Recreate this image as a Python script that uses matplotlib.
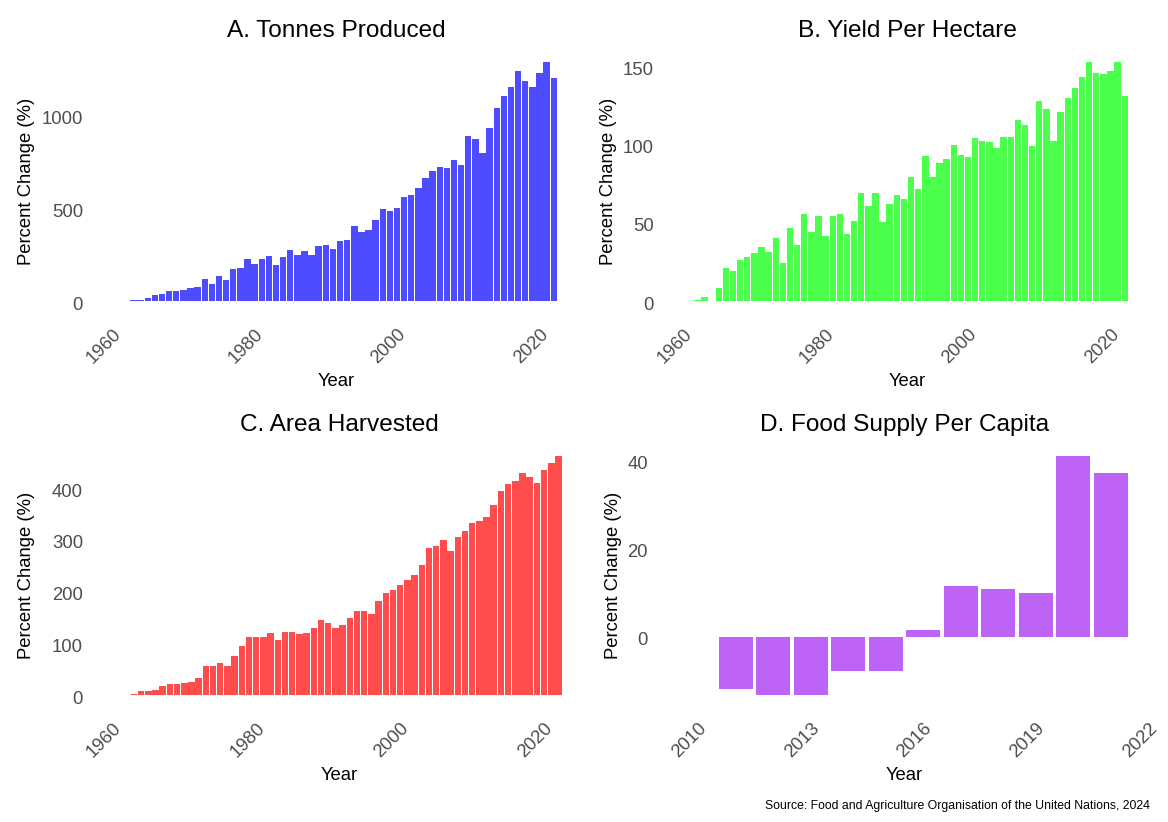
import matplotlib
matplotlib.use("Agg")
import matplotlib.pyplot as plt
from matplotlib.transforms import ScaledTranslation

plt.rcParams['font.family'] = ['Liberation Sans', 'DejaVu Sans']

# A. Tonnes Produced (% change)
years_a = list(range(1963, 2023))
tonnes = [5, 5, 16, 32, 38, 54, 54, 59, 70, 76,
          119, 92, 135, 113, 173, 178, 227, 200, 227, 243,
          194, 237, 275, 248, 270, 248, 297, 302, 280, 324,
          329, 405, 372, 383, 437, 496, 485, 502, 561, 572,
          610, 663, 701, 723, 717, 761, 734, 890, 874, 798,
          933, 1041, 1106, 1154, 1241, 1187, 1154, 1230, 1289, 1203]

# B. Yield Per Hectare (% change)
years_b = list(range(1962, 2023))
yield_ha = [0.6, 2.6, 0, 8.3, 21.1, 19.2, 26.2, 28.1, 30.7, 34.5,
            31.3, 40.2, 24.3, 46.6, 35.8, 55.6, 44.1, 54.3, 41.5, 54.3,
            55.6, 42.8, 51.1, 69.0, 60.7, 69.0, 50.4, 61.9, 67.7, 65.1,
            79.2, 71.5, 92.6, 79.2, 88.1, 90.7, 99.6, 93.2, 92.0, 104.1,
            102.2, 101.5, 97.7, 104.7, 104.7, 115.6, 112.4, 99.0, 127.7, 122.6,
            102.2, 120.7, 129.6, 136.0, 143.0, 152.6, 145.6, 145.0, 146.9, 152.6,
            130.9]

# C. Area Harvested (% change)
years_c = list(range(1963, 2023))
area = [1.9, 7.7, 7.7, 9.7, 17.4, 21.3, 21.3, 23.2, 25.2, 32.9,
        56.1, 56.1, 61.9, 56.1, 75.5, 94.8, 112.3, 112.3, 112.3, 120.0,
        106.5, 121.9, 121.9, 118.1, 120.0, 129.7, 145.2, 139.4, 129.7, 135.5,
        149.0, 162.6, 162.6, 156.8, 181.9, 197.4, 203.2, 212.9, 222.6, 232.3,
        251.6, 284.5, 288.4, 300.0, 278.7, 305.8, 317.4, 332.9, 336.8, 344.5,
        367.7, 394.8, 408.4, 414.2, 429.7, 421.9, 410.3, 435.5, 449.0, 462.6]

# D. Food Supply Per Capita (% change)
years_d = list(range(2011, 2022))
food = [-11.8, -13.2, -13.2, -7.7, -7.7, 1.6, 11.6, 10.9, 10.0, 41.1, 37.3]

W, H = 1168, 822
fig = plt.figure(figsize=(W / 100, H / 100), dpi=100)
fig.patch.set_facecolor('white')


def panel(px, title, years, vals, color, xlim, xticks, yticks, ylab_x, year_y):
    left, top, right, bottom = px
    ax = fig.add_axes([left / W, 1 - bottom / H, (right - left) / W, (bottom - top) / H])
    ax.bar(years, vals, width=0.9, color=color, linewidth=0)
    lo, hi = min(0, min(vals)), max(vals)
    pad = 0.05 * (hi - lo)
    ax.set_ylim(lo - pad, hi + pad)
    ax.set_xlim(*xlim)
    ax.set_xticks(xticks)
    ax.set_xticklabels([str(t) for t in xticks], rotation=45, ha='right', va='top',
                       rotation_mode='anchor')
    ax.set_yticks(yticks)
    ax.tick_params(length=0, labelsize=13.3, labelcolor='#4D4D4D')
    ax.tick_params(axis='y', pad=8)
    ax.tick_params(axis='x', pad=9)
    # ggplot puts the y labels a touch lower
    shift = ScaledTranslation(0, -0.02, fig.dpi_scale_trans)
    for lab in ax.get_yticklabels():
        lab.set_transform(lab.get_transform() + shift)
    for s in ax.spines.values():
        s.set_visible(False)
    ax.set_title(title, fontsize=17.6, pad=9.5)
    cx = (left + right) / 2
    fig.text(ylab_x / W, 1 - ((top + bottom) / 2) / H, 'Percent Change (%)',
             rotation=90, ha='center', va='center', fontsize=13.3)
    fig.text(cx / W, 1 - year_y / H, 'Year', ha='center', va='center', fontsize=13.3)
    return ax


long_xlim = (1957.455, 2025.545)
long_ticks = [1960, 1980, 2000, 2020]

panel((94, 50, 579, 313), 'A. Tonnes Produced', years_a, tonnes, '#4D4DFF',
      long_xlim, long_ticks, [0, 500, 1000], 27, 381)
panel((665, 50, 1150, 313), 'B. Yield Per Hectare', years_b, yield_ha, '#4DFF4D',
      long_xlim, long_ticks, [0, 50, 100, 150], 609, 381)
panel((94, 444, 584, 707), 'C. Area Harvested', years_c, area, '#FF4D4D',
      long_xlim, long_ticks, [0, 100, 200, 300, 400], 27, 775)
panel((659, 444, 1150, 707), 'D. Food Supply Per Capita', years_d, food, '#BD63F5',
      (2008.955, 2022.045), [2010, 2013, 2016, 2019, 2022], [0, 20, 40], 614, 775)

fig.text(1150 / W, 1 - 806 / H,
         'Source: Food and Agriculture Organisation of the United Nations, 2024',
         ha='right', va='center', fontsize=8.85)

fig.savefig('out.png', dpi=100)
